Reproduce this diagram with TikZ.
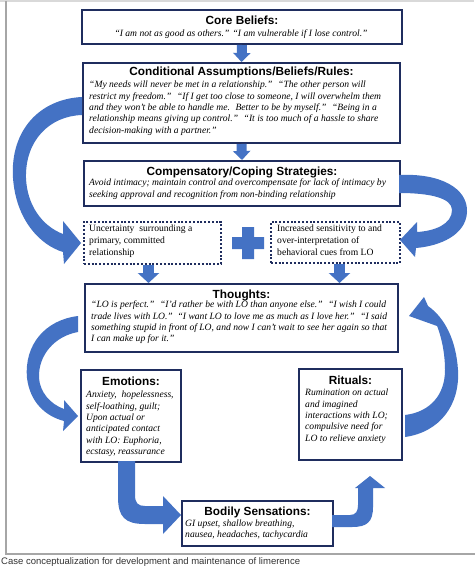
\documentclass[tikz,border=0pt]{standalone}
\usepackage{fontspec}
\setmainfont{Liberation Serif}
\setsansfont{Liberation Sans}
\usepackage{tikz}
\usetikzlibrary{arrows.meta}
\definecolor{c1}{HTML}{4472C4}
\definecolor{c2}{HTML}{1F2D5E}
\definecolor{c3}{HTML}{A6A6A6}
\definecolor{c4}{HTML}{D9D9D9}

\begin{document}
\begin{tikzpicture}[x=1pt, y=-1pt,
    box/.style={draw=c2, line width=2pt, fill=white, inner sep=0pt, anchor=north west},
    dotbox/.style={draw=c2, line width=2pt, dash pattern=on 2pt off 1.8pt, fill=white, inner sep=0pt, anchor=north west},
    ttl/.style={font=\sffamily\bfseries\fontsize{11.8}{13}\selectfont, inner sep=0pt},
    txt/.style={font=\itshape\fontsize{9.6}{11.3}\selectfont, align=left, inner sep=0pt, anchor=north west},
    blk/.style={c1, line width=10pt, -{Triangle[width=17pt, length=9pt]}}]
	\useasboundingbox (0,0) rectangle (474,569);
	\fill [white] (0,0) rectangle (474,569);
	\fill [c4] (0,0) rectangle (474,2);
	\draw [c3, line width=1.2pt] (6,1) -- (6,554) -- (476,554);

	\node [box, minimum width=320pt, minimum height=34pt] (core) at (81,9) {};
	\node [box, minimum width=317pt, minimum height=80pt] (cond) at (82,62) {};
	\node [box, minimum width=316pt, minimum height=45pt] (comp) at (83,160) {};
	\node [dotbox, minimum width=137pt, minimum height=42pt] (dl) at (83,221) {};
	\node [dotbox, minimum width=129pt, minimum height=41pt] (dr) at (270,221) {};
	\node [box, minimum width=313pt, minimum height=68pt] (th) at (84,283) {};
	\node [box, minimum width=100pt, minimum height=92pt] (emo) at (80,369) {};
	\node [box, minimum width=103pt, minimum height=91pt] (rit) at (298,368) {};
	\node [box, minimum width=151pt, minimum height=45pt] (bod) at (181,500) {};

	\node [ttl] (coret) at (core.north |- 0,20) {Core Beliefs:};
	\node [ttl] (condt) at (cond.north |- 0,72) {Conditional Assumptions/Beliefs/Rules:};
	\node [ttl] (compt) at (comp.north |- 0,172) {Compensatory/Coping Strategies:};
	\node [ttl] (tht) at (th.north |- 0,295) {Thoughts:};
	\node [ttl] (emot) at (emo.north |- 0,381) {Emotions:};
	\node [ttl] (ritt) at (rit.north |- 0,380) {Rituals:};
	\node [ttl] (bodt) at (bod.north |- 0,512) {Bodily Sensations:};

	\node [txt, anchor=center] (corex) at (241,34) {“I am not as good as others.” “I am vulnerable if I lose control.”};
	\node [txt] (condx) at (89,81) {“My needs will never be met in a relationship.” ~“The other person will\\
		restrict my freedom.” ~“If I get too close to someone, I will overwhelm them\\
		and they won’t be able to handle me. ~Better to be by myself.” ~“Being in a\\
		relationship means giving up control.” ~“It is too much of a hassle to share\\
		decision-making with a partner.”};
	\node [txt] (compx) at (89,179) {Avoid intimacy; maintain control and overcompensate for lack of intimacy by\\
		seeking approval and recognition from non-binding relationship};
	\node [txt, font=\fontsize{9.6}{11.6}\selectfont] (dlx) at (89,225) {Uncertainty ~surrounding a\\primary, committed\\relationship};
	\node [txt, font=\fontsize{9.6}{11.6}\selectfont] (drx) at (277,225) {Increased sensitivity to and\\over-interpretation of\\behavioral cues from LO};
	\node [txt] (thx) at (91,301) {“LO is perfect.” ~“I’d rather be with LO than anyone else.” ~“I wish I could\\
		trade lives with LO.” ~“I want LO to love me as much as I love her.” ~“I said\\
		something stupid in front of LO, and now I can’t wait to see her again so that\\
		I can make up for it.”};
	\node [txt] (emox) at (86,391) {Anxiety, ~hopelessness,\\self-loathing, guilt;\\Upon actual or\\anticipated contact\\with LO: Euphoria,\\ecstasy, reassurance};
	\node [txt] (ritx) at (305,389) {Rumination on actual\\and imagined\\interactions with LO;\\compulsive need for\\LO to relieve anxiety};
	\node [txt] (bodx) at (185,519.5) {GI upset, shallow breathing,\\nausea, headaches, tachycardia};

	\draw [blk] (core.south) -- (cond.north);
	\draw [blk] (cond.south) -- (comp.north);
	\draw [blk, line width=11pt, -{Triangle[width=21pt, length=10pt]}] ([xshift=-4pt]dl.south) -- ([xshift=-4pt]dl.south |- th.north);
	\draw [blk, line width=11pt, -{Triangle[width=21pt, length=10pt]}] ([xshift=4pt]dr.south) -- ([xshift=4pt]dr.south |- th.north);

	\fill [c1] (248,227) -- (254,227) -- (254,237) -- (264,237) -- (264,249) -- (254,249) -- (254,259) -- (242,259) -- (242,249) -- (232,249) -- (232,237) -- (242,237) -- (242,227) -- cycle;

	\fill [c1] (82,97) .. controls (40,99) and (10,130) .. (13,178) .. controls (16,220) and (40,245) .. (63,252) -- (64,264) -- (81,243) -- (63,221) -- (63,234) .. controls (42,226) and (27,205) .. (26,178) .. controls (25,140) and (50,116) .. (82,115) -- cycle;
	\fill [c1] (399,175) .. controls (440,173) and (468,188) .. (467,212) .. controls (466,235) and (440,246) .. (416,248) -- (415,257) -- (400,240) -- (417,222) -- (417,232) .. controls (435,231) and (452,224) .. (452,210) .. controls (452,198) and (430,193) .. (399,193) -- cycle;
	\fill [c1] (78,316) .. controls (45,320) and (24,345) .. (27,378) .. controls (30,402) and (45,416) .. (64,421) -- (63,431) -- (78,416) -- (64,400) -- (64,409) .. controls (50,404) and (40,392) .. (39,378) .. controls (38,355) and (55,336) .. (78,332) -- cycle;
	\fill [c1] (405,437) .. controls (440,432) and (460,405) .. (458,370) .. controls (456,340) and (445,318) .. (428,306) -- (424,297) -- (409,316) -- (437,326) -- (433,317) .. controls (440,330) and (445,350) .. (445,370) .. controls (445,395) and (430,412) .. (405,415) -- cycle;
	\fill [c1] (118,461) -- (118,497) .. controls (118,517) and (125,524) .. (145,524) -- (163,524) -- (163,534) -- (181,515) -- (163,496) -- (163,506) -- (145,506) .. controls (138,506) and (135,503) .. (135,495) -- (135,461) -- cycle;
	\fill [c1] (332,515) -- (350,515) .. controls (356,515) and (358,511) .. (358,505) -- (358,488) -- (355,488) -- (370,476) -- (385,488) -- (373,488) -- (373,507) .. controls (373,522) and (367,527) .. (352,527) -- (332,527) -- cycle;

	\node [font=\sffamily\fontsize{9.5}{11}\selectfont, anchor=north west, inner sep=0pt, text=black!80] (cap) at (1,557.5) {Case conceptualization for development and maintenance of limerence};
\end{tikzpicture}
\end{document}
